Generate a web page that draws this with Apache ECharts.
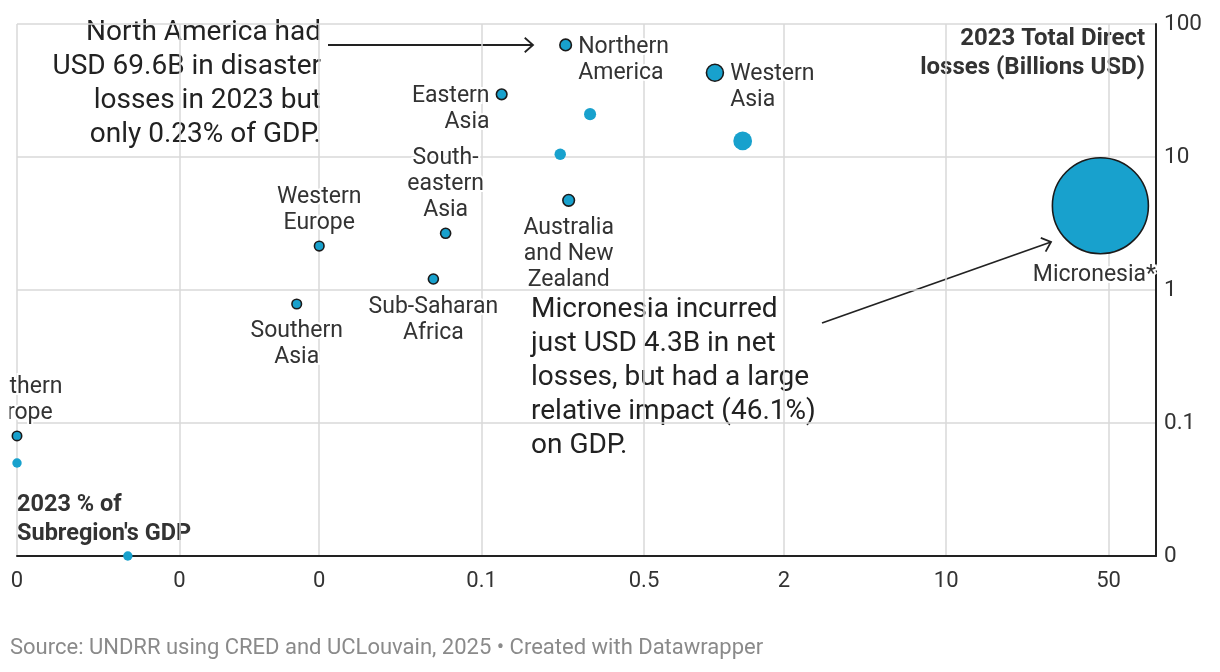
<!DOCTYPE html>
<html>
<head>
<meta charset="utf-8">
<title>2023 disaster losses by subregion</title>
<script src="https://cdn.jsdelivr.net/npm/echarts@6/dist/echarts.min.js"></script>
<style>
  html, body { margin: 0; padding: 0; background: #fff; }
  #chart { width: 1220px; height: 672px; }
</style>
</head>
<body>
<div id="chart"></div>
<script>
// labelled subregions: % of GDP (x) and total direct losses in billions USD (y)
const labeledNames = ['Northern\nAmerica', 'Western\nAsia', 'Eastern\nAsia', 'Australia\nand New\nZealand', 'Micronesia*',
  'South-\neastern\nAsia', 'Western\nEurope', 'Sub-Saharan\nAfrica', 'Southern\nAsia', 'Northern\nEurope']
const labeledGdpShare = [0.23, 1.01, 0.122, 0.237, 46.1, 0.070, 0.020, 0.062, 0.016, 0.001]
const labeledLosses = [69.6, 43.0, 29.6, 4.72, 4.3, 2.67, 2.14, 1.21, 0.785, 0.080]

// other subregions, drawn without labels
const otherGdpShare = [0.293, 1.33, 0.218, 0.001, 0.003]
const otherLosses = [21.0, 13.2, 10.5, 0.050, 0.010]

const xTicks = [0.001, 0.005, 0.02, 0.1, 0.5, 2, 10, 50]
const yTicks = [0.01, 0.1, 1, 10, 100]

const FONT = 'Roboto'
const BLUE = '#18a1cd'

// where each label sits around its bubble
const labelPlacement = {
  'Northern\nAmerica': { position: 'right', offset: [0, 15] },
  'Western\nAsia': { position: 'right', offset: [0, 15] },
  'Eastern\nAsia': { position: 'left', offset: [0, 15] },
  'Australia\nand New\nZealand': { position: 'bottom', offset: [0, 2] },
  'Micronesia*': { position: 'bottom', offset: [-6, 2] },
  'South-\neastern\nAsia': { position: 'top', offset: [0, 2] },
  'Western\nEurope': { position: 'top', offset: [0, 2] },
  'Sub-Saharan\nAfrica': { position: 'bottom', offset: [0, 3] },
  'Southern\nAsia': { position: 'bottom', offset: [0, 3] },
  'Northern\nEurope': { position: 'top', offset: [0, 2] }
}

// bubble area grows with the GDP share
function bubbleSize(val) {
  return 2 * Math.sqrt(22 + 49.5 * val[0])
}

function tickText(v) {
  return String(Math.round(v * 10) / 10)
}

function arrow(x1, y1, x2, y2) {
  const a = Math.atan2(y2 - y1, x2 - x1)
  const len = 11
  const spread = 0.72
  const p1 = [x2 - len * Math.cos(a - spread), y2 - len * Math.sin(a - spread)]
  const p2 = [x2 - len * Math.cos(a + spread), y2 - len * Math.sin(a + spread)]
  const style = { stroke: '#222', lineWidth: 1.8, fill: null }
  return [
    { type: 'polyline', shape: { points: [[x1, y1], [x2, y2]] }, style },
    { type: 'polyline', shape: { points: [p1, [x2, y2], p2] }, style }
  ]
}

const chart = echarts.init(document.getElementById('chart'))

chart.setOption({
  animation: false,
  grid: { left: 17, right: 64, top: 24, bottom: 116 },
  xAxis: {
    type: 'log',
    min: 0.001,
    max: 80,
    axisLine: { show: true, lineStyle: { color: '#222', width: 2 } },
    axisTick: { show: false, customValues: xTicks },
    axisLabel: {
      customValues: xTicks,
      formatter: tickText,
      margin: 14,
      fontFamily: FONT,
      fontSize: 22,
      color: '#333'
    },
    splitLine: { show: true, lineStyle: { color: '#d9d9d9', width: 1.5 } }
  },
  yAxis: {
    type: 'log',
    position: 'right',
    min: 0.01,
    max: 100,
    axisLine: { show: true, onZero: false, lineStyle: { color: '#222', width: 2 } },
    axisTick: { show: false, customValues: yTicks },
    axisLabel: {
      customValues: yTicks,
      formatter: tickText,
      margin: 8,
      fontFamily: FONT,
      fontSize: 22.5,
      color: '#333'
    },
    splitLine: { show: true, lineStyle: { color: '#d9d9d9', width: 1.5 } }
  },
  series: [
    {
      type: 'scatter',
      clip: false,
      symbolSize: bubbleSize,
      itemStyle: { color: BLUE, opacity: 1 },
      data: otherGdpShare.map((x, i) => [x, otherLosses[i]])
    },
    {
      type: 'scatter',
      clip: false,
      symbolSize: bubbleSize,
      itemStyle: { color: BLUE, opacity: 1, borderColor: '#1a1a1a', borderWidth: 1.6 },
      label: {
        show: true,
        formatter: p => p.name,
        fontFamily: FONT,
        fontSize: 23,
        lineHeight: 26,
        color: '#333',
        textBorderColor: '#fff',
        textBorderWidth: 4,
        distance: 6
      },
      data: labeledNames.map((name, i) => ({
        name,
        value: [labeledGdpShare[i], labeledLosses[i]],
        label: labelPlacement[name]
      }))
    }
  ],
  graphic: [
    {
      type: 'text', x: 321, y: 16,
      style: {
        text: 'North America had\nUSD 69.6B in disaster\nlosses in 2023 but\nonly 0.23% of GDP.',
        align: 'right', verticalAlign: 'top',
        fontFamily: FONT, fontSize: 28, lineHeight: 34, fill: '#222'
      }
    },
    {
      type: 'text', x: 531, y: 293,
      style: {
        text: 'Micronesia incurred\njust USD 4.3B in net\nlosses, but had a large\nrelative impact (46.1%)\non GDP.',
        align: 'left', verticalAlign: 'top',
        fontFamily: FONT, fontSize: 28, lineHeight: 34, fill: '#222'
      }
    },
    ...arrow(328, 45, 533, 45),
    ...arrow(822, 323, 1051, 242),
    {
      type: 'text', x: 1145, y: 25,
      style: {
        text: '2023 Total Direct\nlosses (Billions USD)',
        align: 'right', verticalAlign: 'top',
        fontFamily: FONT, fontSize: 24, fontWeight: 'bold', lineHeight: 28.5, fill: '#333',
        stroke: '#fff', lineWidth: 4
      }
    },
    {
      type: 'text', x: 17, y: 491,
      style: {
        text: '2023 % of\nSubregion\'s GDP',
        align: 'left', verticalAlign: 'top',
        fontFamily: FONT, fontSize: 23.5, fontWeight: 'bold', lineHeight: 28.5, fill: '#333',
        stroke: '#fff', lineWidth: 4
      }
    },
    // the chart body is cut off 10px from the left edge
    {
      type: 'rect', z: 100,
      shape: { x: 0, y: 0, width: 9.5, height: 560 },
      style: { fill: '#fff' }
    },
    {
      type: 'text', x: 10, y: 648,
      style: {
        text: 'Source: UNDRR using CRED and UCLouvain, 2025 \u2022 Created with Datawrapper',
        align: 'left', verticalAlign: 'middle',
        fontFamily: FONT, fontSize: 22, fill: '#8a8a8a'
      }
    }
  ]
})
</script>
</body>
</html>
